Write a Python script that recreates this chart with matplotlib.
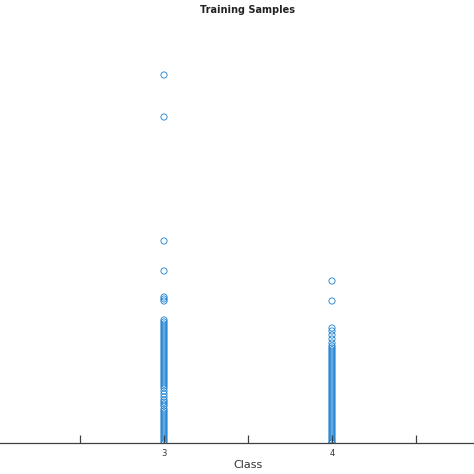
import numpy as np
import matplotlib.pyplot as plt

# training samples per class (arbitrary units)
class3 = [368, 326, 202, 172, 146, 144, 142, 123, 121, 119, 117, 115, 113, 111,
          109, 107, 105, 103, 101, 99, 97, 95, 93, 91, 89, 87, 85, 83, 81, 79,
          77, 75, 73, 71, 69, 67, 65, 63, 61, 59, 57, 55, 52, 49, 46, 43, 41,
          39, 37, 34, 32, 30, 28, 26, 24, 22, 20, 18, 16, 14, 12, 10, 8, 6, 4, 2, 0]
class4 = [162, 142, 115, 112, 108, 104, 100, 97, 95, 93, 91, 89, 87, 85, 83,
          81, 79, 77, 75, 73, 71, 69, 67, 65, 63, 61, 59, 57, 55, 53, 51, 49,
          47, 45, 43, 41, 39, 37, 35, 33, 31, 29, 27, 25, 23, 21, 19, 17, 15,
          13, 11, 9, 7, 5, 3, 1, 0]
xticks = [2.5, 3, 3.5, 4, 4.5]
xticklabels = ['', '3', '', '4', '']

fig = plt.figure(figsize=(4.74, 4.74), dpi=100)
ax = fig.add_axes([-4/474, 31/474, 504/474, 413/474])

col = '#1a7fd0'
ax.scatter([3]*len(class3), class3, s=20, facecolors='none', edgecolors=col, linewidths=0.6)
ax.scatter([4]*len(class4), class4, s=20, facecolors='none', edgecolors=col, linewidths=0.6)

ax.set_xlim(2, 5)
ax.set_ylim(0, 413)
ax.set_xticks(xticks)
ax.set_xticklabels(xticklabels, fontsize=6)
ax.set_yticks([])
for s in ['top', 'right', 'left']:
    ax.spines[s].set_visible(False)
ax.spines['bottom'].set_color('#404040')
ax.spines['bottom'].set_linewidth(0.9)
ax.tick_params(axis='x', direction='in', length=6, width=0.9, color='#404040', pad=4, labelcolor='#333333')
ax.set_xlabel('Class', fontsize=8, color='#333333', labelpad=2)
ax.set_title('Training Samples', fontsize=7, fontweight='bold', color='#222222', pad=12)

fig.savefig('out.png', dpi=100)
